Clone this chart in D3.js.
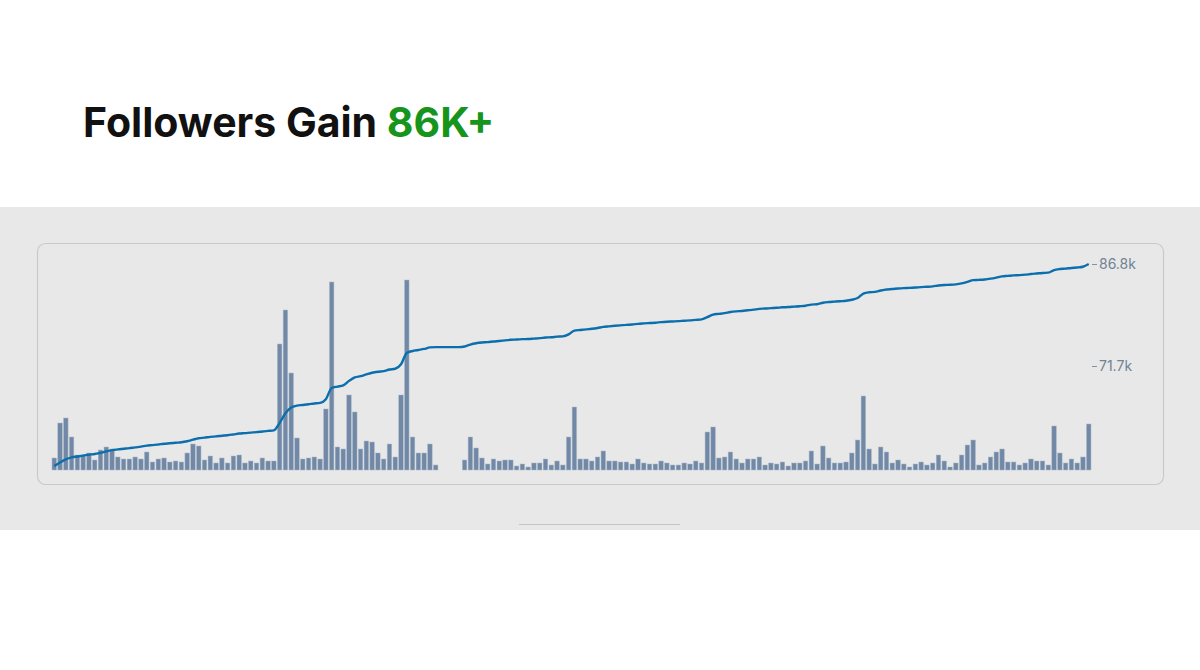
<!DOCTYPE html>
<html>
<head>
<meta charset="utf-8">
<script src="https://cdn.jsdelivr.net/npm/d3@7"></script>
<style>
  body { margin: 0; background: #fff; font-family: Inter, "Noto Sans", sans-serif; }
</style>
</head>
<body>
<div id="chart"></div>
<script>
// daily follower gains (relative units), 4 empty days in the middle
const gainsA = [12,47,52,33,15,15,17,10,20,23,21,13,11,11,13,11,18,8,11,12,8,9,8,17,26,24,10,14,7,12,7,14,15,7,9,7,12,9,9,
  126,160,97,32,11,12,13,11,61,188,23,21,75,58,21,29,28,17,11,26,13,75,190,33,17,17,26,5]
const gapDays = [0,0,0,0]
const gainsB = [10,33,22,12,6,11,9,10,10,4,6,3,7,7,11,5,9,5,33,63,11,11,9,13,19,9,9,8,8,6,11,7,6,6,9,7,5,5,7,6,9,7,
  38,43,12,13,18,11,7,11,11,13,5,7]
const gainsC = [6,8,4,7,7,9,19,6,24,12,7,7,8,17,30,74,21,6,23,18,7,10,6,3,6,8,5,7,15,9,3,7,15,25,30,5,7,13,18,21,8,8,5,7,11,9,9,5,44,17,7,11,7,13,46]
const gains = gainsA.concat(gapDays, gainsB, gainsC)

const startFollowers = 56.9   // k
const endFollowers = 86.8     // k
const axisTicks = [71.7, 86.8]

const width = 1200, height = 670

const svg = d3.select("#chart").append("svg")
    .attr("width", width)
    .attr("height", height)

// title
const title = svg.append("text")
    .attr("x", 83).attr("y", 137)
    .attr("font-size", 41).attr("font-weight", 700)
    .attr("fill", "#111")
title.append("tspan").text("Followers Gain ")
title.append("tspan").attr("fill", "#16941c").text("86K+")

// grey panel
svg.append("rect").attr("x", 0).attr("y", 207).attr("width", width).attr("height", 323).attr("fill", "#e8e8e8")
svg.append("rect").attr("x", 37.5).attr("y", 243.5).attr("width", 1126).attr("height", 241)
    .attr("rx", 8).attr("fill", "none").attr("stroke", "#c9c9c9").attr("stroke-width", 1.2)
svg.append("line").attr("x1", 519).attr("x2", 680).attr("y1", 524.5).attr("y2", 524.5)
    .attr("stroke", "#c4c4c4").attr("stroke-width", 1)

const x = d3.scaleBand()
    .domain(d3.range(gains.length))
    .range([52, 1091])
    .paddingInner(0.22)

const yBar = d3.scaleLinear().domain([0, 190]).range([470, 280])

svg.append("g").selectAll("rect")
    .data(gains)
    .join("rect")
    .attr("x", (d, i) => x(i))
    .attr("width", x.bandwidth())
    .attr("y", d => yBar(d))
    .attr("height", d => yBar(0) - yBar(d))
    .attr("fill", "#7189a6")
    .attr("stroke", "#a9b8c9")
    .attr("stroke-width", 0.5)

// cumulative followers
const total = d3.sum(gains)
let run = 0
const cumulative = gains.map(g => {
    run += g
    return startFollowers + (endFollowers - startFollowers) * run / total
})

const yLine = d3.scaleLinear().domain([startFollowers, endFollowers]).range([466, 264])

const line = d3.line()
    .x((d, i) => x(i) + x.bandwidth() / 2)
    .y(d => yLine(d))
    .curve(d3.curveMonotoneX)

svg.append("path")
    .datum([startFollowers].concat(cumulative.slice(1)))
    .attr("d", line)
    .attr("fill", "none")
    .attr("stroke", "#0b6ead")
    .attr("stroke-width", 2.4)

const axis = svg.append("g")
    .attr("transform", "translate(1092,0)")
    .call(d3.axisRight(yLine).tickValues(axisTicks).tickSize(5).tickFormat(d => d + "k"))
axis.select(".domain").remove()
axis.selectAll("line").attr("stroke", "#7f93a3")
axis.selectAll("text")
    .attr("x", 7)
    .attr("fill", "#6f8494")
    .attr("font-size", 14)
    .attr("font-family", "Inter, sans-serif")
</script>
</body>
</html>
